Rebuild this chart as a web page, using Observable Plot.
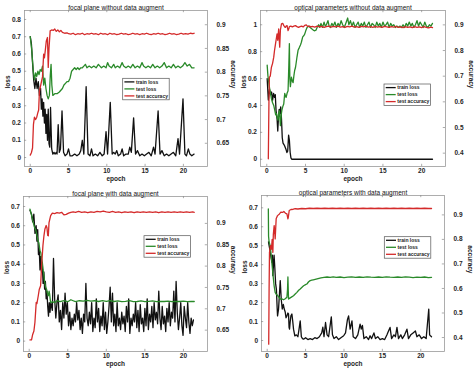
<!DOCTYPE html>
<html><head><meta charset="utf-8">
<script src="https://cdn.jsdelivr.net/npm/d3@7"></script>
<script src="https://cdn.jsdelivr.net/npm/@observablehq/plot@0.6"></script>
<style>
body{margin:0;background:#fff;}
#grid{position:relative;width:474px;height:370px;background:#fff;}
.panel{position:absolute;width:237px;height:185px;}
</style></head>
<body><div id="grid"></div>
<script>
const legendNames = ["train loss","test loss","test accuracy"];
const seriesColors = ["#111111","#2a8a2a","#d42a2a"];
const xTicks = [0,5,10,15,20];

// Panel 1: focal plane without data augment
const p1Title = "focal plane without data augment";
const p1LossTicks = [0,0.1,0.2,0.3,0.4,0.5,0.6,0.7,0.8];
const p1AccTicks = [0.65,0.7,0.75,0.8,0.85,0.9];
const p1Train = [[0,0.70],[0.15,0.66],[0.3,0.55],[0.45,0.45],[0.6,0.40],[0.75,0.46],[0.9,0.40],[1.05,0.44],[1.2,0.36],[1.35,0.40],[1.45,0.28],[1.55,0.34],[1.65,0.24],[1.75,0.32],[1.85,0.20],[1.95,0.28],[2.05,0.14],[2.15,0.25],[2.25,0.10],[2.35,0.28],[2.45,0.08],[2.55,0.06],[2.65,0.29],[2.8,0.05],[2.95,0.02],[3.1,0.03],[3.25,0.02],[3.4,0.03],[3.5,0.02],[3.65,0.19],[3.8,0.03],[3.95,0.05],[4.15,0.27],[4.35,0.03],[4.55,0.01],[4.8,0.02],[5.0,0.05],[5.2,0.01],[5.5,0.01],[5.8,0.02],[6.1,0.01],[6.4,0.02],[6.6,0.04],[6.8,0.10],[7.0,0.02],[7.3,0.41],[7.55,0.02],[7.8,0.01],[8.0,0.05],[8.2,0.01],[8.5,0.02],[8.8,0.01],[9.1,0.03],[9.4,0.01],[9.65,0.02],[9.9,0.15],[10.1,0.02],[10.45,0.32],[10.7,0.02],[10.9,0.03],[11.1,0.02],[11.3,0.04],[11.5,0.01],[11.8,0.02],[12.0,0.05],[12.2,0.01],[12.5,0.02],[12.8,0.02],[13.0,0.06],[13.2,0.03],[13.5,0.23],[13.75,0.02],[14.0,0.04],[14.3,0.01],[14.6,0.02],[14.9,0.01],[15.2,0.02],[15.5,0.03],[15.8,0.01],[16.1,0.06],[16.3,0.02],[16.7,0.27],[16.95,0.02],[17.2,0.04],[17.5,0.01],[17.8,0.02],[18.1,0.01],[18.4,0.02],[18.7,0.03],[19.0,0.01],[19.3,0.11],[19.5,0.02],[19.95,0.34],[20.2,0.02],[20.4,0.01],[20.65,0.05],[20.85,0.02],[21.1,0.01],[21.4,0.02]];
const p1Test = [[0,0.70],[0.2,0.62],[0.4,0.50],[0.55,0.45],[0.7,0.49],[0.85,0.47],[1.0,0.50],[1.15,0.48],[1.3,0.51],[1.45,0.50],[1.6,0.53],[1.75,0.42],[1.9,0.46],[2.05,0.40],[2.2,0.36],[2.35,0.34],[2.5,0.36],[2.62,0.48],[2.72,0.54],[2.82,0.42],[2.95,0.36],[3.2,0.37],[3.5,0.37],[3.8,0.38],[4.0,0.39],[4.2,0.40],[4.4,0.42],[4.6,0.43],[4.8,0.44],[5.0,0.44],[5.2,0.46],[5.4,0.50],[5.6,0.51],[5.8,0.52],[6.0,0.51],[6.2,0.52],[6.4,0.51],[6.6,0.52],[6.8,0.52],[7.0,0.53],[7.2,0.54],[7.4,0.52],[7.7,0.53],[8.0,0.52],[8.3,0.53],[8.6,0.52],[8.9,0.54],[9.1,0.53],[9.3,0.52],[9.6,0.53],[9.9,0.52],[10.1,0.55],[10.3,0.53],[10.6,0.52],[10.9,0.54],[11.1,0.52],[11.4,0.53],[11.7,0.52],[12.0,0.55],[12.2,0.53],[12.5,0.52],[12.8,0.53],[13.1,0.52],[13.4,0.54],[13.7,0.52],[14.0,0.53],[14.3,0.52],[14.6,0.55],[14.8,0.53],[15.1,0.52],[15.4,0.53],[15.7,0.52],[16.0,0.54],[16.3,0.52],[16.6,0.53],[16.9,0.52],[17.2,0.53],[17.5,0.55],[17.8,0.52],[18.1,0.53],[18.4,0.52],[18.7,0.54],[19.0,0.52],[19.3,0.53],[19.6,0.52],[19.9,0.53],[20.2,0.55],[20.5,0.53],[20.8,0.54],[21.1,0.52],[21.4,0.52]];
const p1Acc = [[0,0.625],[0.15,0.63],[0.3,0.64],[0.42,0.69],[0.55,0.705],[0.7,0.70],[0.85,0.705],[1.0,0.715],[1.1,0.72],[1.2,0.76],[1.4,0.775],[1.6,0.79],[1.75,0.838],[1.85,0.83],[1.96,0.845],[2.1,0.866],[2.25,0.873],[2.35,0.81],[2.45,0.85],[2.6,0.887],[2.8,0.889],[3.0,0.888],[3.2,0.891],[3.4,0.886],[3.6,0.889],[3.8,0.885],[4.0,0.888],[4.2,0.884],[4.5,0.882],[4.8,0.883],[5.0,0.881],[5.3,0.88],[5.6,0.882],[5.9,0.879],[6.2,0.881],[6.5,0.88],[6.8,0.882],[7.1,0.879],[7.4,0.881],[7.7,0.88],[8.0,0.882],[8.3,0.88],[8.6,0.881],[8.9,0.879],[9.2,0.882],[9.5,0.88],[9.8,0.881],[10.1,0.879],[10.4,0.882],[10.7,0.88],[11.0,0.881],[11.3,0.879],[11.6,0.88],[11.9,0.882],[12.2,0.88],[12.5,0.881],[12.8,0.879],[13.1,0.88],[13.4,0.882],[13.7,0.88],[14.0,0.881],[14.3,0.879],[14.6,0.881],[14.9,0.88],[15.2,0.882],[15.5,0.88],[15.8,0.879],[16.1,0.881],[16.4,0.88],[16.7,0.882],[17.0,0.88],[17.3,0.881],[17.6,0.879],[17.9,0.88],[18.2,0.882],[18.5,0.88],[18.8,0.881],[19.1,0.879],[19.4,0.88],[19.7,0.882],[20.0,0.88],[20.3,0.881],[20.6,0.88],[20.9,0.882],[21.2,0.881],[21.4,0.882]];

// Panel 2: optical parameters without data augment
const p2Title = "optical parameters without data augment";
const p2LossTicks = [0,0.2,0.4,0.6,0.8,1];
const p2AccTicks = [0.4,0.5,0.6,0.7,0.8,0.9];
const p2Train = [[0.05,0.60],[0.2,0.44],[0.35,0.52],[0.5,0.48],[0.62,0.50],[0.75,0.44],[0.88,0.49],[1.0,0.46],[1.1,0.48],[1.2,0.36],[1.33,0.30],[1.42,0.21],[1.5,0.30],[1.6,0.37],[1.7,0.34],[1.8,0.39],[1.9,0.30],[2.0,0.16],[2.1,0.12],[2.2,0.11],[2.3,0.10],[2.4,0.085],[2.5,0.07],[2.6,0.05],[2.7,0.06],[2.82,0.18],[2.92,0.14],[3.02,0.05],[3.12,0.01],[3.22,0.0],[21.4,0.0]];
const p2Test = [[0.05,0.70],[0.15,0.62],[0.3,0.55],[0.45,0.50],[0.6,0.45],[0.75,0.42],[0.9,0.40],[1.05,0.36],[1.15,0.33],[1.25,0.34],[1.35,0.31],[1.46,0.29],[1.55,0.34],[1.63,0.36],[1.7,0.30],[1.76,0.25],[1.83,0.30],[1.89,0.34],[1.97,0.37],[2.06,0.39],[2.19,0.41],[2.32,0.49],[2.42,0.47],[2.5,0.46],[2.62,0.49],[2.75,0.51],[2.85,0.70],[2.92,0.86],[2.98,0.60],[3.05,0.54],[3.18,0.61],[3.3,0.58],[3.4,0.57],[3.5,0.62],[3.6,0.66],[3.7,0.68],[3.78,0.71],[3.9,0.76],[4.04,0.81],[4.2,0.83],[4.35,0.85],[4.47,0.87],[4.64,0.91],[4.8,0.92],[4.9,0.93],[5.06,0.96],[5.2,0.98],[5.4,0.99],[5.6,0.98],[5.8,0.97],[6.0,0.96],[6.2,0.955],[6.35,0.96],[6.5,0.98],[6.7,1.0],[6.85,0.98],[7.0,1.01],[7.2,0.98],[7.4,1.02],[7.55,0.99],[7.7,1.0],[7.9,1.03],[8.05,0.99],[8.2,0.98],[8.4,1.01],[8.6,0.99],[8.8,1.02],[9.0,0.98],[9.2,1.01],[9.4,0.99],[9.6,1.03],[9.8,1.0],[10.0,0.98],[10.2,1.01],[10.45,1.05],[10.6,1.0],[10.8,1.03],[11.0,0.99],[11.2,1.02],[11.4,0.98],[11.6,1.0],[11.8,1.02],[12.0,0.98],[12.2,1.01],[12.4,0.99],[12.6,1.02],[12.8,0.98],[13.0,1.0],[13.2,1.02],[13.4,0.98],[13.6,1.01],[13.8,1.0],[14.0,0.98],[14.2,1.02],[14.4,0.99],[14.6,1.01],[14.8,0.98],[15.0,1.02],[15.2,0.99],[15.4,1.0],[15.6,1.02],[15.8,0.98],[16.0,1.01],[16.2,0.99],[16.4,1.0],[16.6,0.98],[16.8,0.99],[17.0,0.98],[17.2,0.99],[17.4,0.98],[17.6,1.0],[17.8,0.98],[18.0,1.01],[18.2,0.99],[18.4,1.02],[18.6,0.99],[18.8,1.01],[19.0,0.98],[19.2,1.0],[19.4,1.03],[19.6,0.99],[19.8,1.02],[20.0,1.0],[20.2,0.98],[20.4,1.02],[20.6,0.99],[20.8,0.98],[21.0,1.0],[21.2,0.99],[21.4,1.01]];
const p2Acc = [[0.2,0.378],[0.28,0.60],[0.34,0.696],[0.45,0.70],[0.6,0.735],[0.75,0.75],[0.9,0.774],[1.0,0.80],[1.1,0.82],[1.2,0.84],[1.33,0.865],[1.42,0.84],[1.5,0.87],[1.54,0.884],[1.6,0.85],[1.67,0.813],[1.76,0.88],[1.9,0.904],[2.06,0.906],[2.2,0.897],[2.3,0.893],[2.4,0.89],[2.5,0.895],[2.62,0.897],[2.75,0.878],[2.85,0.885],[2.92,0.893],[3.1,0.895],[3.3,0.892],[3.5,0.895],[3.7,0.897],[3.9,0.893],[4.1,0.89],[4.3,0.893],[4.5,0.895],[4.7,0.892],[4.9,0.898],[5.1,0.9],[5.3,0.893],[5.5,0.895],[5.7,0.892],[5.9,0.894],[6.2,0.891],[6.5,0.895],[6.8,0.892],[7.1,0.894],[7.4,0.89],[7.7,0.893],[8.0,0.895],[8.3,0.891],[8.6,0.894],[8.9,0.892],[9.2,0.895],[9.5,0.891],[9.8,0.893],[10.1,0.89],[10.4,0.894],[10.7,0.892],[11.0,0.895],[11.3,0.891],[11.6,0.893],[11.9,0.89],[12.2,0.894],[12.5,0.892],[12.8,0.895],[13.1,0.891],[13.4,0.893],[13.7,0.89],[14.0,0.894],[14.3,0.891],[14.6,0.893],[14.9,0.89],[15.2,0.894],[15.5,0.892],[15.8,0.89],[16.1,0.893],[16.4,0.891],[16.7,0.894],[17.0,0.89],[17.3,0.892],[17.6,0.889],[17.9,0.893],[18.2,0.89],[18.5,0.892],[18.8,0.889],[19.1,0.893],[19.4,0.89],[19.7,0.892],[20.0,0.889],[20.3,0.893],[20.6,0.89],[20.9,0.888],[21.2,0.891],[21.4,0.889]];

// Panel 3: focal plane with data augment
const p3Title = "focal plane with data augment";
const p3LossTicks = [0,0.1,0.2,0.3,0.4,0.5,0.6,0.7];
const p3AccTicks = [0.65,0.7,0.75,0.8,0.85,0.9];
const p3Train = [[0.1,0.68],[0.3,0.66],[0.45,0.62],[0.6,0.66],[0.75,0.56],[0.9,0.6],[1.0,0.52],[1.1,0.58],[1.2,0.45],[1.3,0.48],[1.4,0.37],[1.5,0.44],[1.6,0.36],[1.7,0.4],[1.8,0.3],[1.9,0.36],[2.0,0.27],[2.1,0.31],[2.2,0.22],[2.3,0.26],[2.4,0.18],[2.5,0.13],[2.6,0.2],[2.7,0.15],[2.8,0.2],[3.0,0.16],[3.15,0.43],[3.3,0.22],[3.45,0.12],[3.6,0.2],[3.75,0.24],[3.9,0.1],[4.05,0.16],[4.2,0.06],[4.35,0.2],[4.5,0.12],[4.65,0.25],[4.8,0.14],[4.95,0.2],[5.1,0.08],[5.25,0.15],[5.4,0.06],[5.55,0.12],[5.7,0.08],[5.85,0.14],[6.0,0.1],[6.15,0.2],[6.3,0.11],[6.45,0.16],[6.6,0.06],[6.75,0.12],[6.9,0.04],[7.05,0.14],[7.2,0.1],[7.35,0.3],[7.5,0.12],[7.65,0.08],[7.8,0.15],[7.95,0.09],[8.1,0.2],[8.25,0.05],[8.4,0.12],[8.55,0.07],[8.7,0.22],[8.85,0.1],[9.0,0.17],[9.15,0.05],[9.3,0.13],[9.45,0.08],[9.6,0.2],[9.75,0.06],[9.9,0.15],[10.05,0.04],[10.2,0.1],[10.35,0.18],[10.5,0.28],[10.65,0.1],[10.8,0.25],[10.95,0.08],[11.1,0.14],[11.25,0.05],[11.4,0.2],[11.55,0.08],[11.7,0.12],[11.85,0.06],[12.0,0.15],[12.15,0.09],[12.3,0.13],[12.45,0.05],[12.6,0.18],[12.75,0.1],[12.9,0.22],[13.05,0.04],[13.2,0.12],[13.35,0.08],[13.5,0.14],[13.65,0.1],[13.8,0.2],[13.95,0.07],[14.1,0.16],[14.25,0.05],[14.4,0.19],[14.55,0.09],[14.7,0.12],[14.85,0.05],[15.0,0.17],[15.15,0.08],[15.3,0.22],[15.45,0.06],[15.6,0.14],[15.75,0.1],[15.9,0.18],[16.05,0.07],[16.2,0.2],[16.35,0.11],[16.5,0.15],[16.65,0.09],[16.8,0.26],[16.95,0.12],[17.1,0.06],[17.25,0.18],[17.4,0.09],[17.55,0.13],[17.7,0.05],[17.85,0.17],[18.0,0.1],[18.15,0.2],[18.3,0.08],[18.45,0.15],[18.6,0.12],[18.75,0.26],[18.9,0.1],[19.05,0.31],[19.2,0.15],[19.35,0.06],[19.5,0.12],[19.65,0.2],[19.8,0.08],[19.95,0.03],[20.1,0.18],[20.25,0.12],[20.4,0.07],[20.55,0.2],[20.7,0.1],[20.85,0.04],[21.0,0.12],[21.15,0.08],[21.3,0.11]];
const p3Test = [[0.1,0.686],[0.3,0.655],[0.5,0.62],[0.7,0.59],[0.83,0.58],[1.0,0.55],[1.15,0.52],[1.26,0.51],[1.4,0.47],[1.5,0.46],[1.6,0.43],[1.7,0.41],[1.8,0.37],[1.91,0.34],[2.0,0.31],[2.13,0.28],[2.25,0.27],[2.35,0.25],[2.48,0.236],[2.58,0.26],[2.65,0.244],[2.72,0.22],[2.78,0.20],[3.0,0.205],[3.3,0.2],[3.6,0.21],[4.0,0.205],[4.5,0.21],[5.0,0.205],[5.4,0.215],[5.7,0.21],[6.0,0.205],[6.5,0.21],[7.0,0.208],[7.5,0.212],[8.0,0.208],[8.5,0.21],[9,0.206],[9.5,0.21],[10,0.207],[10.5,0.21],[11,0.206],[11.5,0.209],[12,0.205],[12.5,0.207],[13,0.21],[13.5,0.205],[14,0.206],[14.5,0.209],[15,0.205],[15.5,0.207],[16,0.209],[16.5,0.205],[17,0.207],[17.5,0.206],[18,0.208],[18.5,0.205],[19,0.207],[19.5,0.206],[20,0.208],[20.5,0.205],[21,0.207],[21.4,0.206]];
const p3Acc = [[0.1,0.627],[0.3,0.627],[0.45,0.64],[0.61,0.648],[0.74,0.668],[0.91,0.715],[1.0,0.712],[1.17,0.73],[1.3,0.745],[1.48,0.754],[1.6,0.80],[1.78,0.848],[1.91,0.871],[2.04,0.887],[2.2,0.895],[2.3,0.89],[2.4,0.872],[2.48,0.871],[2.57,0.902],[2.78,0.918],[3.0,0.924],[3.3,0.923],[3.6,0.925],[3.9,0.924],[4.2,0.926],[4.5,0.92],[4.8,0.921],[5.1,0.924],[5.4,0.926],[5.7,0.927],[6.0,0.926],[6.4,0.928],[6.8,0.926],[7.2,0.927],[7.6,0.925],[8.0,0.927],[8.4,0.926],[8.8,0.928],[9.2,0.927],[9.6,0.929],[10.0,0.927],[10.4,0.926],[10.8,0.928],[11.2,0.926],[11.6,0.927],[12.0,0.925],[12.4,0.927],[12.8,0.926],[13.2,0.927],[13.6,0.925],[14.0,0.927],[14.4,0.926],[14.8,0.927],[15.2,0.926],[15.6,0.927],[16.0,0.926],[16.4,0.927],[16.8,0.925],[17.2,0.927],[17.6,0.926],[18.0,0.927],[18.4,0.926],[18.8,0.927],[19.2,0.926],[19.6,0.927],[20.0,0.926],[20.4,0.927],[20.8,0.926],[21.2,0.927],[21.4,0.926]];

// Panel 4: optical parameters with data augment
const p4Title = "optical parameters with data augment";
const p4LossTicks = [0,0.1,0.2,0.3,0.4,0.5,0.6,0.7];
const p4AccTicks = [0.4,0.5,0.6,0.7,0.8,0.9];
const p4Train = [[0.17,0.52],[0.3,0.49],[0.39,0.466],[0.5,0.44],[0.61,0.413],[0.68,0.45],[0.74,0.342],[0.82,0.40],[0.9,0.45],[1.0,0.38],[1.1,0.30],[1.2,0.27],[1.3,0.17],[1.35,0.13],[1.48,0.166],[1.61,0.254],[1.7,0.316],[1.83,0.219],[1.96,0.166],[2.1,0.19],[2.22,0.166],[2.35,0.15],[2.45,0.12],[2.57,0.13],[2.7,0.145],[2.78,0.14],[2.85,0.07],[2.91,0.06],[3.0,0.10],[3.09,0.13],[3.22,0.14],[3.33,0.10],[3.43,0.06],[3.6,0.024],[3.8,0.03],[4.0,0.02],[4.15,0.06],[4.3,0.104],[4.45,0.02],[4.6,0.01],[4.74,0.007],[5.0,0.015],[5.3,0.005],[5.6,0.01],[5.9,0.005],[6.2,0.015],[6.5,0.01],[6.8,0.02],[7.1,0.04],[7.25,0.07],[7.4,0.02],[7.6,0.095],[7.8,0.03],[8.0,0.02],[8.2,0.08],[8.35,0.125],[8.5,0.03],[8.7,0.01],[9.0,0.02],[9.3,0.005],[9.6,0.015],[9.96,0.025],[10.2,0.04],[10.45,0.11],[10.6,0.13],[10.8,0.06],[11.04,0.104],[11.2,0.02],[11.5,0.01],[11.8,0.03],[12.1,0.086],[12.25,0.06],[12.4,0.08],[12.6,0.01],[12.9,0.02],[13.2,0.005],[13.4,0.025],[13.6,0.01],[13.9,0.04],[14.1,0.01],[14.4,0.02],[14.7,0.005],[15.0,0.01],[15.3,0.005],[15.6,0.03],[15.8,0.05],[16.0,0.069],[16.2,0.01],[16.5,0.03],[16.7,0.02],[16.9,0.069],[17.1,0.01],[17.4,0.03],[17.6,0.01],[17.9,0.03],[18.2,0.06],[18.4,0.01],[18.7,0.03],[19.0,0.04],[19.3,0.05],[19.5,0.02],[19.8,0.03],[20.1,0.01],[20.4,0.02],[20.7,0.01],[21.04,0.166],[21.15,0.03],[21.26,0.025],[21.4,0.02]];
const p4Test = [[0.15,0.694],[0.18,0.55],[0.25,0.52],[0.39,0.50],[0.5,0.46],[0.61,0.41],[0.75,0.35],[0.9,0.29],[1.04,0.254],[1.15,0.245],[1.3,0.24],[1.5,0.23],[1.7,0.219],[1.9,0.22],[2.13,0.215],[2.35,0.22],[2.57,0.228],[2.65,0.27],[2.7,0.335],[2.75,0.26],[2.78,0.219],[3.0,0.225],[3.2,0.23],[3.43,0.236],[3.65,0.245],[3.87,0.254],[4.1,0.265],[4.3,0.272],[4.5,0.28],[4.74,0.289],[5.0,0.295],[5.17,0.298],[5.4,0.31],[5.6,0.316],[5.8,0.318],[6.0,0.32],[6.5,0.325],[7.0,0.33],[7.4,0.333],[7.8,0.335],[8.2,0.333],[8.6,0.336],[9,0.333],[9.5,0.335],[10,0.332],[10.5,0.334],[11,0.336],[11.5,0.333],[12,0.335],[12.5,0.333],[13,0.336],[13.5,0.334],[14,0.333],[14.5,0.335],[15,0.333],[15.5,0.336],[16,0.334],[16.5,0.333],[17,0.335],[17.5,0.333],[18,0.336],[18.5,0.334],[19,0.332],[19.5,0.334],[20,0.333],[20.5,0.335],[21,0.332],[21.4,0.333]];
const p4Acc = [[0.2,0.373],[0.25,0.60],[0.3,0.747],[0.43,0.775],[0.55,0.76],[0.65,0.80],[0.74,0.747],[0.8,0.82],[0.91,0.856],[1.0,0.82],[1.04,0.802],[1.17,0.884],[1.35,0.897],[1.6,0.904],[1.78,0.911],[2.0,0.91],[2.17,0.914],[2.4,0.906],[2.57,0.904],[2.7,0.884],[2.75,0.89],[2.87,0.918],[3.1,0.922],[3.4,0.923],[3.65,0.925],[4.0,0.924],[4.5,0.926],[5.0,0.925],[5.5,0.927],[6.0,0.926],[6.5,0.927],[7.0,0.926],[7.5,0.927],[8.0,0.926],[8.5,0.927],[9.0,0.926],[9.5,0.927],[10.0,0.926],[10.5,0.927],[11.0,0.926],[11.5,0.927],[12.0,0.926],[12.5,0.927],[13.0,0.926],[13.5,0.927],[14.0,0.926],[14.5,0.927],[15.0,0.926],[15.5,0.927],[16.0,0.926],[16.5,0.927],[17.0,0.926],[17.5,0.927],[18.0,0.926],[18.5,0.927],[19.0,0.926],[19.5,0.927],[20.0,0.926],[20.5,0.927],[21.0,0.926],[21.4,0.926]];

const panels = [
  {left:0, top:0, title:p1Title, train:p1Train, test:p1Test, acc:p1Acc, lossTicks:p1LossTicks, accTicks:p1AccTicks,
   margin:[10,30,19,24], xDomain:[-0.75,23.15], lossDomain:[-0.052,0.852], accDomain:[0.601,0.930], legend:[122.7,78.3]},
  {left:237, top:0, title:p2Title, train:p2Train, test:p2Test, acc:p2Acc, lossTicks:p2LossTicks, accTicks:p2AccTicks,
   margin:[10,29,19,23], xDomain:[-0.81,23.08], lossDomain:[-0.054,1.106], accDomain:[0.348,0.956], legend:[147,84]},
  {left:0, top:185, title:p3Title, train:p3Train, test:p3Test, acc:p3Acc, lossTicks:p3LossTicks, accTicks:p3AccTicks,
   margin:[11,30,19,23], xDomain:[-0.74,23.12], lossDomain:[-0.054,0.752], accDomain:[0.60,0.963], legend:[144,50.7]},
  {left:237, top:185, title:p4Title, train:p4Train, test:p4Test, acc:p4Acc, lossTicks:p4LossTicks, accTicks:p4AccTicks,
   margin:[10,30,19,24], xDomain:[-0.74,23.09], lossDomain:[-0.058,0.765], accDomain:[0.343,0.979], legend:[147.3,51.7]}
];

const FONT = "'Liberation Sans', Arial, sans-serif";
function makePanel(cfg) {
  const [l0,l1] = cfg.lossDomain, [a0,a1] = cfg.accDomain, [x0,x1] = cfg.xDomain;
  const toLoss = a => l0 + (a - a0) * (l1 - l0) / (a1 - a0);
  const accPos = cfg.accTicks.map(toLoss);
  const accLabel = new Map(accPos.map((p,i) => [p, d3.format("~g")(cfg.accTicks[i])]));
  const tx = (x1 - x0) * 0.012, ty = (l1 - l0) * 0.014;
  const tickStyle = {stroke:"#8a8a8a", strokeWidth:0.7};
  const font = {fontSize:6.5, fontWeight:"bold", color:"#262626"};
  const [mt,mr,mb,ml] = cfg.margin;
  const svg = Plot.plot({
    width:237, height:185, marginTop:mt, marginRight:mr, marginBottom:mb, marginLeft:ml,
    x:{domain:[x0,x1]}, y:{domain:[l0,l1]},
    style:{fontFamily:FONT, background:"#fff", overflow:"visible"},
    marks:[
      Plot.frame({stroke:"#9a9a9a", strokeWidth:0.8}),
      Plot.ruleX(xTicks, {x:d=>d, y1:l0, y2:l0+ty, ...tickStyle}),
      Plot.ruleX(xTicks, {x:d=>d, y1:l1-ty, y2:l1, ...tickStyle}),
      Plot.ruleY(cfg.lossTicks, {y:d=>d, x1:x0, x2:x0+tx, ...tickStyle}),
      Plot.ruleY(accPos, {y:d=>d, x1:x1-tx, x2:x1, ...tickStyle}),
      Plot.line(cfg.train, {x:d=>d[0], y:d=>d[1], stroke:seriesColors[0], strokeWidth:1.3}),
      Plot.line(cfg.test, {x:d=>d[0], y:d=>d[1], stroke:seriesColors[1], strokeWidth:1.3}),
      Plot.line(cfg.acc, {x:d=>d[0], y:d=>toLoss(d[1]), stroke:seriesColors[2], strokeWidth:1.3}),
      Plot.axisX(xTicks, {anchor:"bottom", tickSize:0, tickPadding:1.5, label:null, ...font}),
      Plot.axisY(cfg.lossTicks, {anchor:"left", tickSize:0, tickPadding:3.5, tickFormat:d3.format("~g"), label:null, ...font}),
      Plot.axisY(accPos, {anchor:"right", tickSize:0, tickPadding:9, tickFormat:d=>accLabel.get(d), label:null, ...font}),
      Plot.text([cfg.title], {text:d=>d, frameAnchor:"top", dy:-5, fontSize:6.5, fill:"#111"}),
      Plot.text(["epoch"], {text:d=>d, frameAnchor:"bottom", dy:14, fontSize:6.5, fontWeight:"bold", fill:"#262626"}),
      Plot.text(["loss"], {text:d=>d, frameAnchor:"left", dx:-16.5, rotate:-90, fontSize:6.5, fontWeight:"bold", fill:"#262626"}),
      Plot.text(["accuracy"], {text:d=>d, frameAnchor:"right", dx:26, rotate:90, fontSize:6.5, fontWeight:"bold", fill:"#262626"})
    ]
  });
  const g = d3.select(svg).append("g").attr("transform", `translate(${cfg.legend[0]},${cfg.legend[1]})`)
    .attr("text-anchor","start");
  g.append("rect").attr("width",46.5).attr("height",21.5).attr("fill","#fff").attr("stroke","#555").attr("stroke-width",0.7);
  legendNames.forEach((n,i) => {
    const y = 3.6 + i*7;
    g.append("line").attr("x1",1.7).attr("x2",11.7).attr("y1",y).attr("y2",y).attr("stroke",seriesColors[i]).attr("stroke-width",1.3);
    g.append("text").attr("x",13.3).attr("y",y).attr("dy","0.35em").attr("text-anchor","start")
      .attr("font-size",5).attr("font-weight","bold")
      .attr("font-family",FONT).attr("fill","#222").text(n);
  });
  const div = document.createElement("div");
  div.className = "panel";
  div.style.left = cfg.left + "px";
  div.style.top = cfg.top + "px";
  div.appendChild(svg);
  return div;
}
const grid = document.getElementById("grid");
panels.forEach(p => grid.appendChild(makePanel(p)));
</script>
</body></html>
